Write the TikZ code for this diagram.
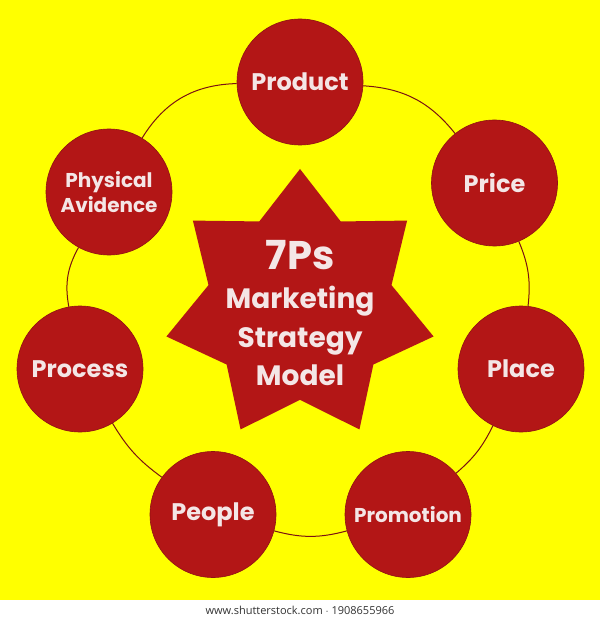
\documentclass[tikz,border=0pt]{standalone}
\usepackage{fontspec}
\setmainfont{Poppins}
\newfontfamily\footfont{Open Sans}
\usetikzlibrary{shapes.geometric}
\definecolor{bgyellow}{HTML}{FFFF00}
\definecolor{pred}{HTML}{B31616}
\definecolor{ringred}{HTML}{7A1212}
\definecolor{ptext}{HTML}{F4E6E6}
\tikzset{
  pcircle/.style={circle,fill=pred,draw=pred!80!black,line width=.6pt,
    minimum size=126,inner sep=0,text=ptext,align=center,
    font=\bfseries\fontsize{24}{27}\selectfont},
  smalltext/.style={font=\bfseries\fontsize{20}{25}\selectfont},
  ring/.style={ringred,line width=1pt},
}
\begin{document}
\begin{tikzpicture}[x=1pt,y=-1pt]
    \useasboundingbox (0,0) rectangle (600,620);
    \fill[bgyellow] (0,0) rectangle (600,600);
    \fill[white] (0,600) rectangle (600,620);
    \node[font=\footfont\fontsize{11}{12}\selectfont,text=black!80] (credit) at (300,610.5) {www.shutterstock.com $\cdot$ 1908655966};
    % the seven Ps
    \node[pcircle] (product) at (300,82) {Product};
    \node[pcircle] (price) at (494.5,183) {Price};
    \node[pcircle] (place) at (521,369) {Place};
    \node[pcircle,font=\bfseries\fontsize{20}{22}\selectfont] (promotion) at (408,514.5) {Promotion};
    \node[pcircle] (people) at (213,514.5) {People};
    \node[pcircle] (process) at (80,369) {Process};
    \node[pcircle,smalltext] (evidence) at (109,192) {Physical\\Avidence};
    % ring
    \draw[ring] (product) to[bend left=24] (price);
    \draw[ring] (price) to[bend left=14.5] (place);
    \draw[ring] (place) to[bend left=11.5] (promotion);
    \draw[ring] (promotion) to[bend left=15] (people);
    \draw[ring] (people) to[bend left=11.5] (process);
    \draw[ring] (process) to[bend left=19.5] (evidence);
    \draw[ring] (evidence) to[bend left=28.5] (product);
    % centre star
    \node[star,star points=7,star point ratio=1.46,minimum size=274,inner sep=0,fill=pred] (core) at (300,306) {};
    \node[text=ptext,align=center,font=\bfseries\fontsize{28}{38.5}\selectfont] (title) at (300,313)
      {{\fontsize{40}{40}\selectfont 7Ps}\\[1pt]Marketing\\Strategy\\Model};
\end{tikzpicture}
\end{document}
